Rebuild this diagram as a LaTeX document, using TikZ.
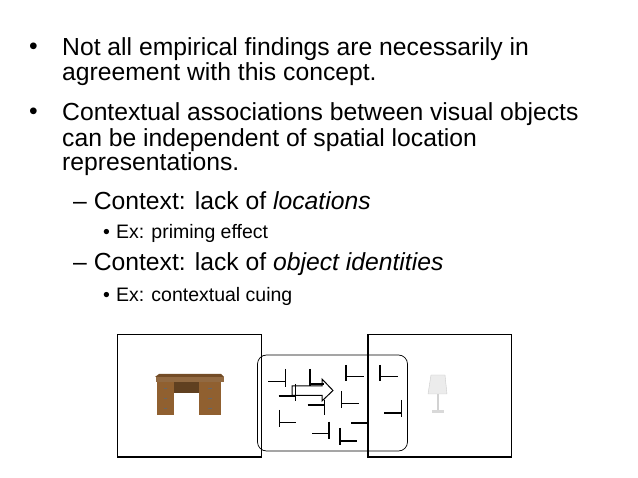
\documentclass[tikz,border=0pt]{standalone}
\usepackage{fontspec}
\setmainfont{Liberation Sans}
\begin{document}
\begin{tikzpicture}[x=1pt,y=-1pt,
 lvA/.style={anchor=west,font=\fontsize{24.7}{28}\selectfont,inner sep=0},
 lvC/.style={anchor=west,font=\fontsize{19.5}{23}\selectfont,inner sep=0},
 frame/.style={draw,line width=1.2pt},
 tee/.style={line width=1.3pt}]
\useasboundingbox (0,0) rectangle (638,478);
% text
\node[lvA] (b1) at (29,49) {•};
\node[lvA] (t1) at (62,49) {Not all empirical findings are necessarily in};
\node[lvA] (t1b) at (62,74) {agreement with this concept.};
\node[lvA] (b2) at (29,114) {•};
\node[lvA] (t2) at (62,114) {Contextual associations between visual objects};
\node[lvA] (t2b) at (62,140) {can be independent of spatial location};
\node[lvA] (t2c) at (62,164) {representations.};
\node[lvA] (t3) at (73,201) {– Context: lack of \textit{locations}};
\node[lvC] (t4) at (103,233) {•\hspace{6pt}Ex: priming effect};
\node[lvA] (t5) at (73,264) {– Context: lack of \textit{object identities}};
\node[lvC] (t6) at (103,296) {•\hspace{6pt}Ex: contextual cuing};
% frames
\node[frame,minimum width=144pt,minimum height=122.5pt,inner sep=0] (lb) at (189.5,395.7) {};
\node[frame,minimum width=143.7pt,minimum height=122.5pt,inner sep=0] (rb) at (439.8,395.7) {};
\node[draw,line width=0.7pt,rounded corners=9pt,minimum width=150pt,minimum height=96pt,inner sep=0] (rr) at (332.5,403) {};
% tees
\foreach \a/\b/\c/\d/\e/\f/\g/\h in {
268/381.6/285.6/381.6/285.6/369/285.6/387,
310/384/323.6/384/310/369/310/386,
346/376.5/363.5/376.5/346/365/346/381,
380/376.5/397.5/376.5/380/365/380/381,
278.5/396/295.8/396/295.8/384/295.8/401,
307.6/405/324.6/405/324.6/399.6/324.6/415,
341.5/403.6/359/403.6/341.5/391/341.5/408,
384/413/401.5/413/401.5/400/401.5/417,
279.5/422.3/296.4/422.3/279.5/410/279.5/427,
312/433.5/329/433.5/329/421.6/329/438.6,
351/423/368/423/368/411/368/428,
340/441/357/441/340/428/340/445}
 {\draw[tee] (\a,\b) -- (\c,\d); \draw[tee] (\e,\f) -- (\g,\h);}
% outline arrow
\draw[line width=1pt] (292,386) -- (322,386) -- (322,379) -- (333,390.5) -- (322,401) -- (322,395.5) -- (292,395.5) -- cycle;
% desk
\fill[brown!60!black] (155,377) -- (159,374) -- (221,374) -- (224,377) -- cycle;
\fill[brown!70!black!90] (156,377) rectangle (224,382);
\fill[brown!75!black] (157,382) rectangle (174,415);
\fill[brown!75!black] (199,382) rectangle (221,415);
\fill[brown!50!black] (174,382) rectangle (199,393);
\foreach \y in {388,398,408} {\draw[black!60,line width=0.5pt] (164,\y) -- (167,\y); \draw[black!60,line width=0.5pt] (208,\y) -- (212,\y);}
% lamp
\fill[gray!15,draw=gray!40] (431,375) -- (445,375) -- (447,394) -- (428,394) -- cycle;
\fill[gray!35] (437,394) rectangle (439,410);
\fill[gray!30] (432,410) rectangle (444,413);
\end{tikzpicture}
\end{document}
